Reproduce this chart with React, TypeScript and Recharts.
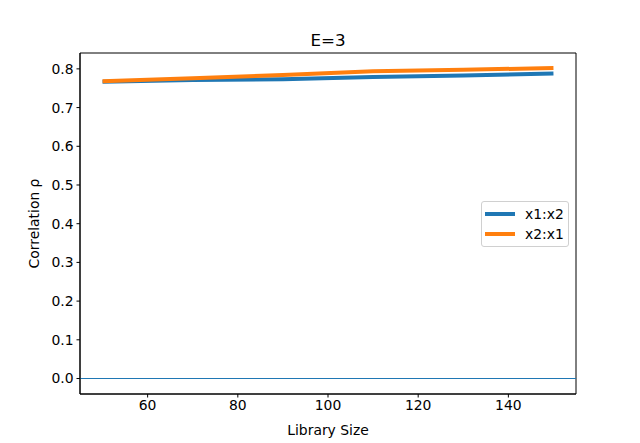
import React from "react"
import { LineChart, Line, XAxis, YAxis, ReferenceLine, ReferenceArea } from "recharts"

// values
const librarySizes = [50, 70, 90, 110, 130, 150]
const x1x2 = [0.767, 0.771, 0.773, 0.779, 0.783, 0.788]
const x2x1 = [0.768, 0.776, 0.784, 0.794, 0.798, 0.802]
const xTicks = [60, 80, 100, 120, 140]
const yTicks = [0.0, 0.1, 0.2, 0.3, 0.4, 0.5, 0.6, 0.7, 0.8]

const data = librarySizes.map((size, i) => ({
  size,
  x1x2: x1x2[i],
  x2x1: x2x1[i],
}))

const font = "DejaVu Sans, sans-serif"
const blue = "#1f77b4"
const orange = "#ff7f0e"

const legendItems = [
  { name: "x1:x2", color: blue },
  { name: "x2:x1", color: orange },
]

function LegendBox() {
  return (
    <div
      style={{
        position: "absolute",
        left: 481,
        top: 201,
        width: 88,
        height: 46,
        border: "1px solid #d0d0d0",
        borderRadius: 3,
        background: "rgba(255,255,255,0.8)",
        fontFamily: font,
        fontSize: 13.9,
        color: "#000",
        boxSizing: "border-box",
        paddingTop: 2,
      }}
    >
      {legendItems.map((item) => (
        <div key={item.name} style={{ display: "flex", alignItems: "center", height: 20 }}>
          <div style={{ width: 30, height: 4, background: item.color, marginLeft: 3, marginRight: 10 }} />
          <span>{item.name}</span>
        </div>
      ))}
    </div>
  )
}

export default function App() {
  return (
    <div style={{ position: "absolute", left: 0, top: 0, width: 640, height: 443, background: "#fff" }}>
      <LineChart
        width={640}
        height={443}
        data={data}
        margin={{ top: 53, right: 64, left: 0, bottom: 0 }}
      >
        <XAxis
          dataKey="size"
          type="number"
          domain={[45, 155]}
          ticks={xTicks}
          allowDataOverflow
          height={49}
          tickSize={3.5}
          tickMargin={3}
          tick={{ fill: "#000", fontSize: 13.9, fontFamily: font }}
          stroke="#000"
          tickLine={{ stroke: "#000" }}
          label={{ value: "Library Size", position: "insideBottom", offset: 8, fill: "#000", fontSize: 13.9, fontFamily: font }}
        />
        <YAxis
          type="number"
          domain={[-0.04, 0.841]}
          ticks={yTicks}
          allowDataOverflow
          width={80}
          tickSize={3.5}
          tickMargin={3}
          tickFormatter={(v: number) => v.toFixed(1)}
          tick={{ fill: "#000", fontSize: 13.9, fontFamily: font }}
          stroke="#000"
          tickLine={{ stroke: "#000" }}
          label={{ value: "Correlation ρ", angle: -90, position: "insideLeft", offset: 34, fill: "#000", fontSize: 13.9, fontFamily: font, style: { textAnchor: "middle" } }}
        />
        <ReferenceArea x1={45} x2={155} y1={-0.04} y2={0.841} fill="none" stroke="#000" strokeWidth={1} ifOverflow="extendDomain" />
        <ReferenceLine y={0} stroke={blue} strokeWidth={1.2} strokeOpacity={1} />
        <Line dataKey="x1x2" name="x1:x2" stroke={blue} strokeWidth={4} dot={false} isAnimationActive={false} />
        <Line dataKey="x2x1" name="x2:x1" stroke={orange} strokeWidth={4} dot={false} isAnimationActive={false} />
        <text x={328} y={46} textAnchor="middle" fontFamily={font} fontSize={16.7} fill="#000">
          E=3
        </text>
      </LineChart>
      <LegendBox />
    </div>
  )
}
